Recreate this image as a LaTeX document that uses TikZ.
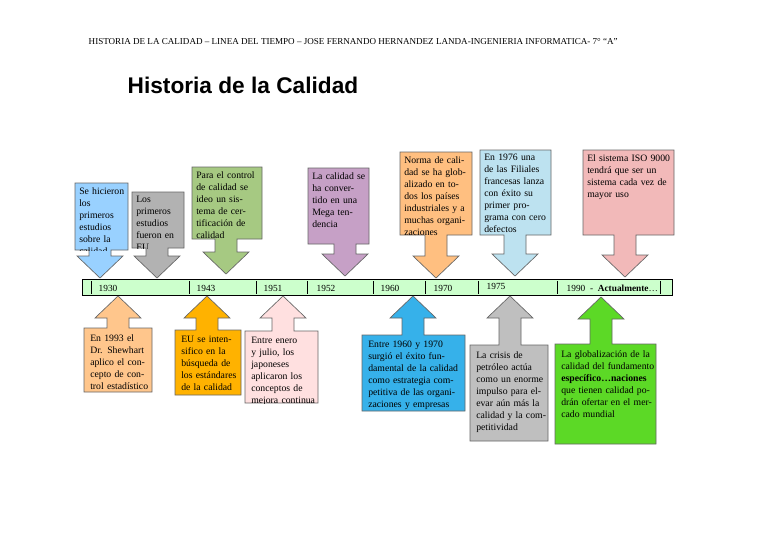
\documentclass[tikz,border=0pt]{standalone}
\usepackage{fontspec}
\setmainfont{Liberation Serif}
\newfontfamily\titlefont{Liberation Sans}
\tikzset{boxtxt/.style={anchor=north west,inner sep=0pt,align=left,font=\fontsize{7.3}{9}\selectfont},
 yr/.style={anchor=west,font=\fontsize{7}{8}\selectfont},
 edge/.style={draw=black!60,line width=0.5pt}}
\newcommand\calldown[8]{% x1 y1 x2 y2 cx ty color text
 \fill[#7,edge] (#1,#2) -- (#3,#2) -- (#3,#4) -- ({#5+11},#4) -- ({#5+11},{#6-22}) -- ({#5+23},{#6-22}) -- (#5,#6) -- ({#5-23},{#6-22}) -- ({#5-11},{#6-22}) -- ({#5-11},#4) -- (#1,#4) -- cycle;
 \pgfmathsetmacro\tw{(#3-#1-8)*0.75}
 \begin{scope}\clip (#1,#2) rectangle (#3,#4);
 \node[boxtxt,text width=\tw pt] (t#1) at ({#1+4},{#2+4}) {#8};
 \end{scope}}
\newcommand\callup[8]{% x1 y1 x2 y2 cx ty color text
 \fill[#7,edge] (#1,#2) -- ({#5-11},#2) -- ({#5-11},{#6+22}) -- ({#5-23},{#6+22}) -- (#5,#6) -- ({#5+23},{#6+22}) -- ({#5+11},{#6+22}) -- ({#5+11},#2) -- (#3,#2) -- (#3,#4) -- (#1,#4) -- cycle;
 \pgfmathsetmacro\tw{(#3-#1-8)*0.75}
 \begin{scope}\clip (#1,#2) rectangle (#3,#4);
 \node[boxtxt,text width=\tw pt] (u#1) at ({#1+6},{#2+6}) {#8};
 \end{scope}}
\begin{document}
\begin{tikzpicture}[x=0.75pt,y=-0.75pt]
\useasboundingbox[fill=white] (0,0) rectangle (768,543);
\node[anchor=west,font=\fontsize{6.8}{8}\selectfont] (hdr) at (84,42) {HISTORIA DE LA CALIDAD -- LINEA DEL TIEMPO -- JOSE FERNANDO HERNANDEZ LANDA-INGENIERIA INFORMATICA- 7° ``A''};
\node[anchor=west,font=\titlefont\bfseries\fontsize{17}{20}\selectfont] (title) at (123,85) {Historia de la Calidad};
% timeline
\draw[fill=green!20!white,draw=black,line width=0.6pt] (82,279) rectangle (672,295);
\foreach \x in {91,189,256,307,373,425,478,557,660} \draw[line width=0.6pt] (\x,281) -- (\x,294);
\node[yr] (y1) at (94,288) {1930};
\node[yr] (y2) at (192,288) {1943};
\node[yr] (y3) at (259,288) {1951};
\node[yr] (y4) at (312,288) {1952};
\node[yr] (y5) at (376,288) {1960};
\node[yr] (y6) at (429,288) {1970};
\node[yr] (y7) at (482,286) {1975};
\node[yr] (y8) at (562,288) {1990 \ - \ \textbf{Actualmente}\dots};
% top
\calldown{75}{183}{128}{250}{100}{278}{blue!45!cyan!40!white}{Se hicieron los primeros estudios sobre la calidad}
\calldown{132}{192}{184}{248}{157}{278}{black!30}{Los primeros estudios fueron en EU}
\calldown{192}{167}{262}{239}{226}{274}{green!50!yellow!40!gray!70}{Para el control de calidad se ideo un sistema de certificación de calidad}
\calldown{308}{168}{369}{244}{345}{276}{violet!35!white!85!gray}{La calidad se ha convertido en una Mega tendencia}
\calldown{400}{152}{472}{235}{436}{278}{orange!50!white}{Norma de calidad se ha globalizado en todos los países industriales y a muchas organizaciones}
\calldown{480}{150}{551}{235}{515}{276}{cyan!25!white!90!gray}{En 1976 una de las Filiales francesas lanza con éxito su primer programa con cero defectos}
\calldown{583}{150}{674}{235}{625}{277}{red!25!white!90!gray}{El sistema ISO 9000 tendrá que ser un sistema cada vez de mayor uso}
% bottom
\callup{84}{328}{152}{392}{118}{296}{orange!45!white}{En 1993 el Dr. Shewhart aplico el concepto de control estadístico}
\callup{175}{330}{241}{395}{207}{296}{orange!60!yellow}{EU se intensifico en la búsqueda de los estándares de la calidad}
\callup{245}{331}{318}{403}{283}{296}{red!12!white}{Entre enero y julio, los japoneses aplicaron los conceptos de mejora continua}
\callup{362}{335}{465}{411}{413}{296}{cyan!90!blue!80!white}{Entre 1960 y 1970 surgió el éxito fundamental de la calidad como estrategia competitiva de las organizaciones y empresas}
\callup{470}{345}{548}{441}{510}{296}{black!25}{La crisis de petróleo actúa como un enorme impulso para elevar aún más la calidad y la competitividad}
\callup{555}{344}{656}{444}{601}{297}{green!60!lime!70!gray}{La globalización de la calidad del fundamento \textbf{específico\dots naciones} que tienen calidad podrán ofertar en el mercado mundial}
\end{tikzpicture}
\end{document}
